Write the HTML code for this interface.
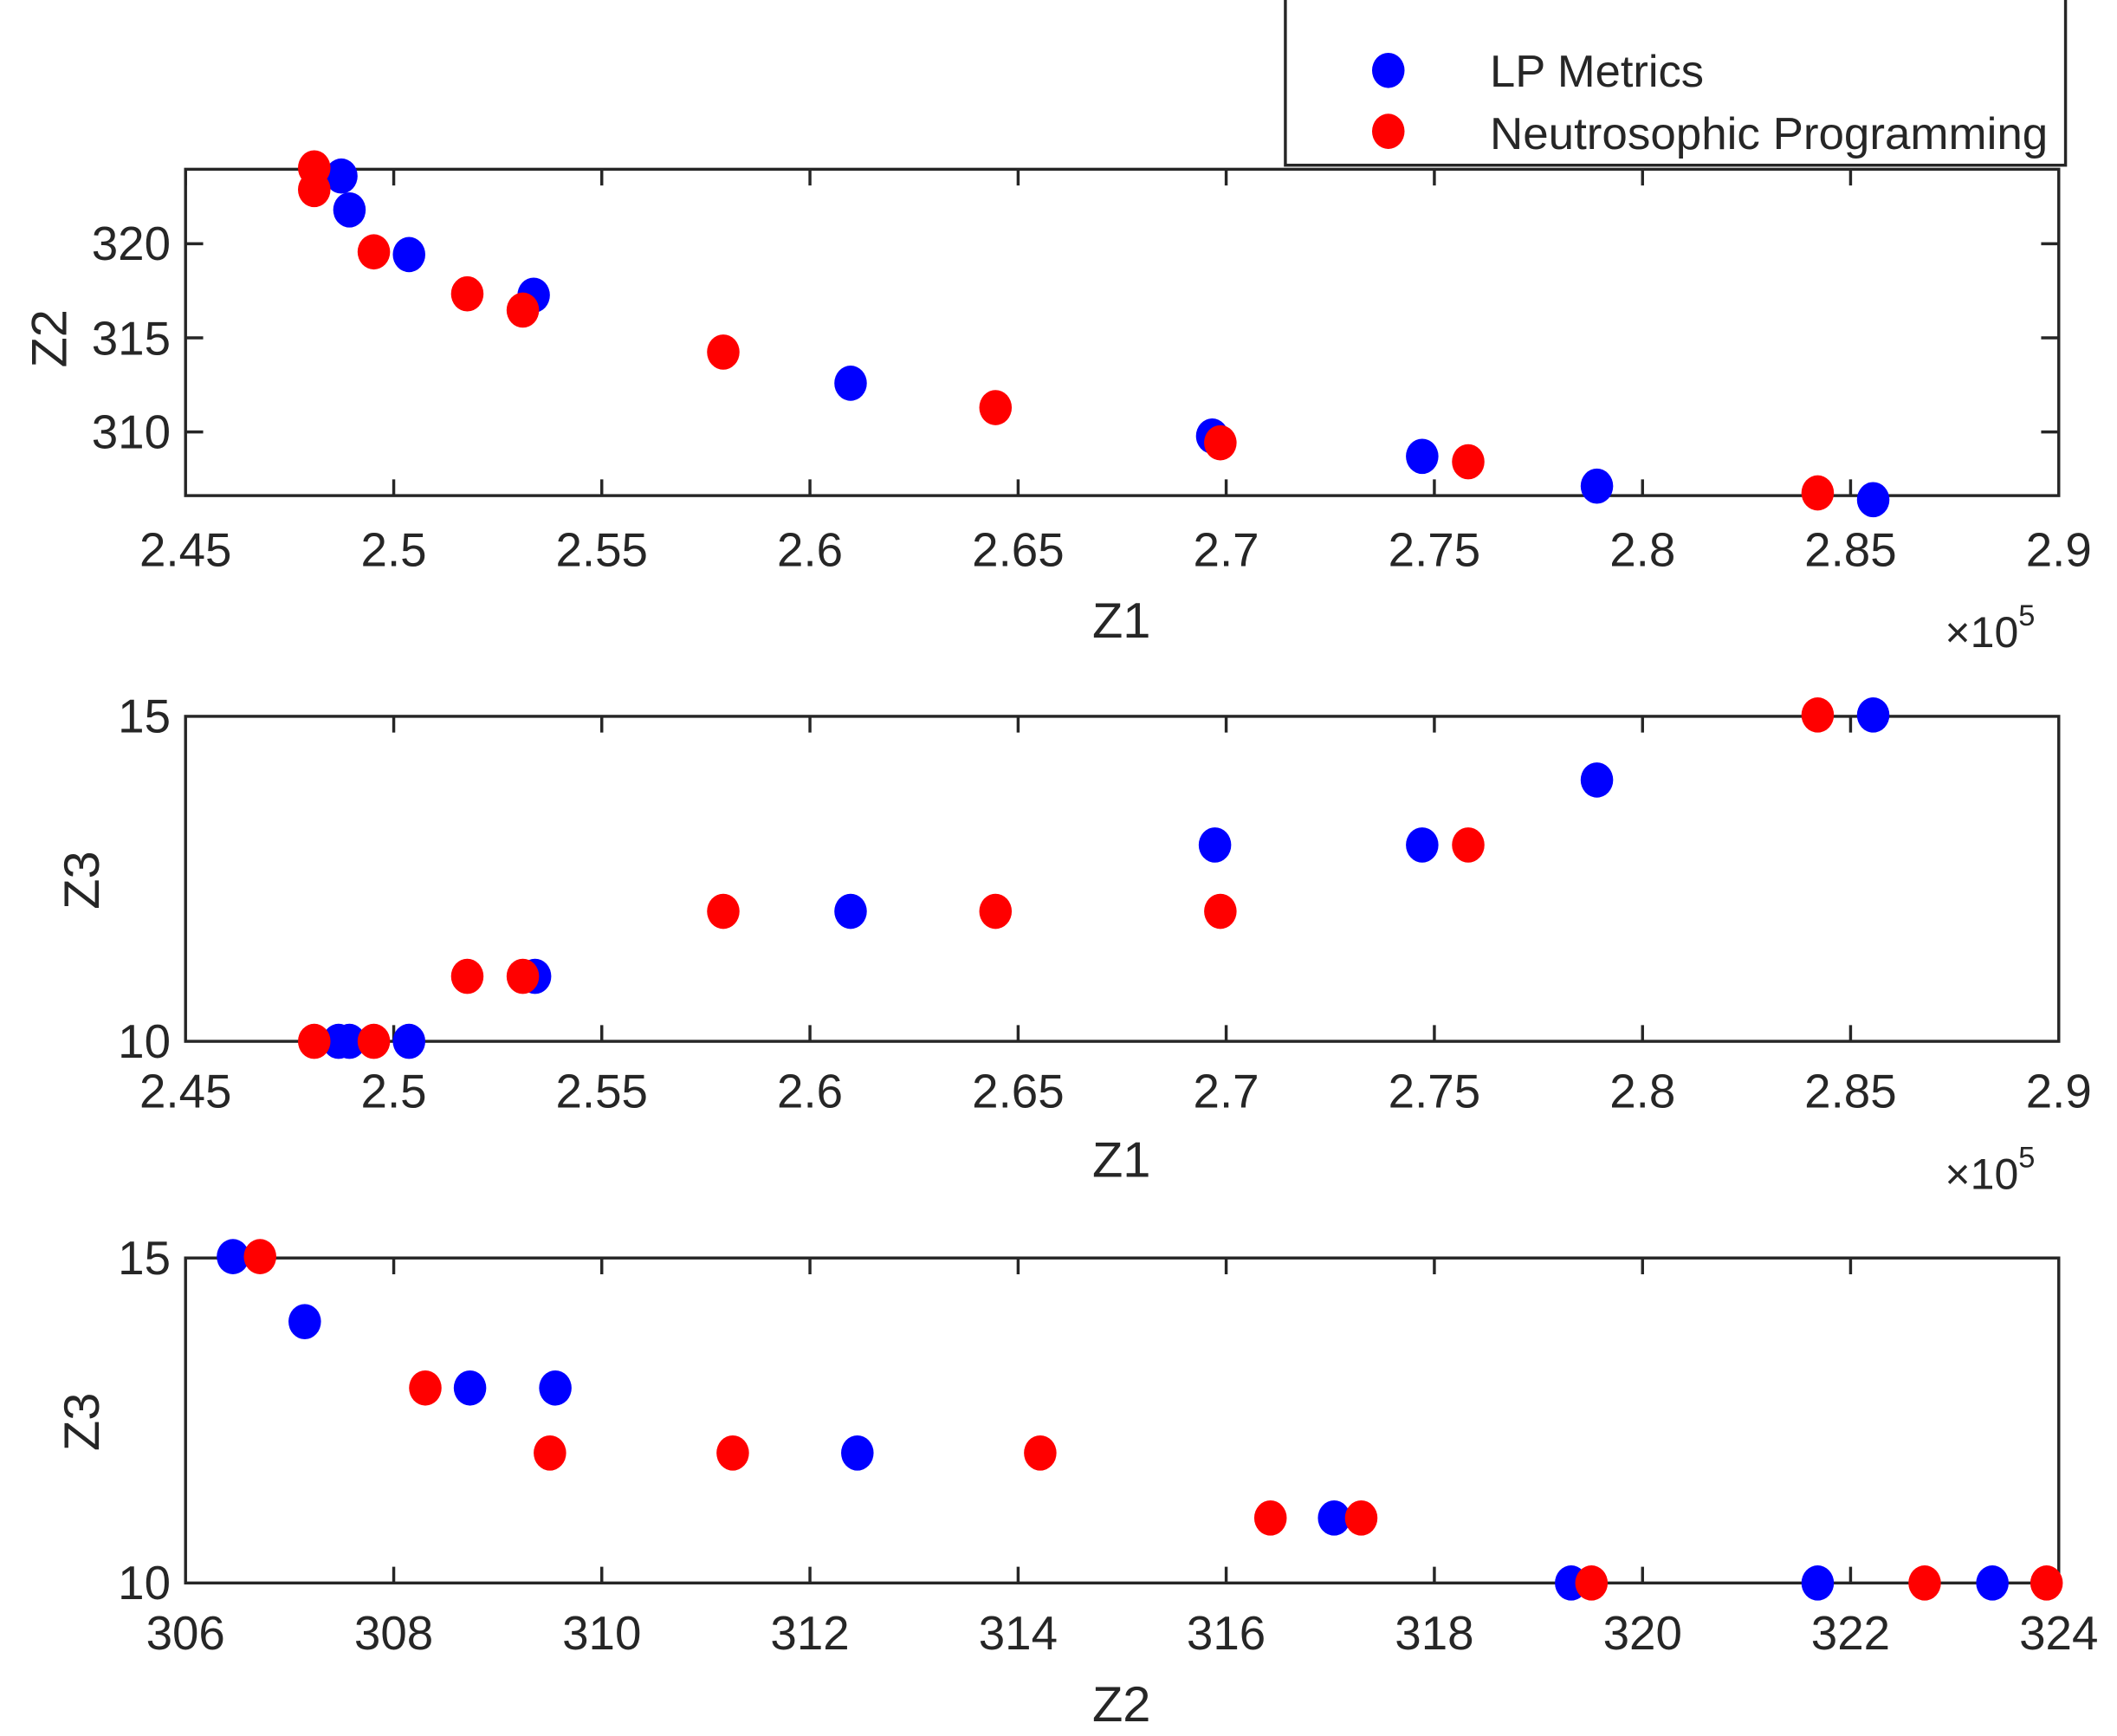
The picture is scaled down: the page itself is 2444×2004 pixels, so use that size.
<!DOCTYPE html>
<html><head><meta charset="utf-8"><style>
html,body{margin:0;padding:0;background:#fff;}
svg{display:block;}
text{font-family:"Liberation Sans",Arial,sans-serif;fill:#262626;}
</style></head><body>
<svg width="2444" height="2004" viewBox="0 0 1563 1282" preserveAspectRatio="none" xmlns="http://www.w3.org/2000/svg">
<rect width="1563" height="1282" fill="#fff"/>
<g stroke="#262626" stroke-width="2.2" fill="none">
<rect x="137" y="125" width="1383" height="241"/>
<path d="M137,125v12M290.7,125v12M444.3,125v12M598,125v12M751.7,125v12M905.3,125v12M1059,125v12M1212.7,125v12M1366.3,125v12
M290.7,366v-12M444.3,366v-12M598,366v-12M751.7,366v-12M905.3,366v-12M1059,366v-12M1212.7,366v-12M1366.3,366v-12
M137,180h13M137,249.5h13M137,319h13M1520,180h-13M1520,249.5h-13M1520,319h-13"/>
<rect x="137" y="529" width="1383" height="240"/>
<path d="M290.7,529v12M444.3,529v12M598,529v12M751.7,529v12M905.3,529v12M1059,529v12M1212.7,529v12M1366.3,529v12
M290.7,769v-12M444.3,769v-12M598,769v-12M751.7,769v-12M905.3,769v-12M1059,769v-12M1212.7,769v-12M1366.3,769v-12"/>
<rect x="137" y="929" width="1383" height="240"/>
<path d="M290.7,929v12M444.3,929v12M598,929v12M751.7,929v12M905.3,929v12M1059,929v12M1212.7,929v12M1366.3,929v12
M290.7,1169v-12M444.3,1169v-12M598,1169v-12M751.7,1169v-12M905.3,1169v-12M1059,1169v-12M1212.7,1169v-12M1366.3,1169v-12"/>
</g>
<rect x="949" y="-5" width="576" height="127" fill="#fff" stroke="#262626" stroke-width="2.2"/>
<ellipse cx="1025" cy="52" rx="12" ry="13" fill="#0000ff"/>
<ellipse cx="1025" cy="97" rx="12" ry="13" fill="#ff0000"/>
<text x="1100" y="64" font-size="33" textLength="158" lengthAdjust="spacingAndGlyphs">LP Metrics</text>
<text x="1100" y="110" font-size="33" textLength="412" lengthAdjust="spacingAndGlyphs">Neutrosophic Programming</text>

<g font-size="35" text-anchor="middle">
<text x="137" y="418">2.45</text><text x="290.7" y="418">2.5</text><text x="444.3" y="418">2.55</text><text x="598" y="418">2.6</text><text x="751.7" y="418">2.65</text><text x="905.3" y="418">2.7</text><text x="1059" y="418">2.75</text><text x="1212.7" y="418">2.8</text><text x="1366.3" y="418">2.85</text><text x="1520" y="418">2.9</text>
<text x="137" y="818">2.45</text><text x="290.7" y="818">2.5</text><text x="444.3" y="818">2.55</text><text x="598" y="818">2.6</text><text x="751.7" y="818">2.65</text><text x="905.3" y="818">2.7</text><text x="1059" y="818">2.75</text><text x="1212.7" y="818">2.8</text><text x="1366.3" y="818">2.85</text><text x="1520" y="818">2.9</text>
<text x="137" y="1218">306</text><text x="290.7" y="1218">308</text><text x="444.3" y="1218">310</text><text x="598" y="1218">312</text><text x="751.7" y="1218">314</text><text x="905.3" y="1218">316</text><text x="1059" y="1218">318</text><text x="1212.7" y="1218">320</text><text x="1366.3" y="1218">322</text><text x="1520" y="1218">324</text>
</g>
<g font-size="35" text-anchor="end">
<text x="126" y="192">320</text><text x="126" y="262">315</text><text x="126" y="331">310</text>
<text x="126" y="541">15</text><text x="126" y="781">10</text>
<text x="126" y="941">15</text><text x="126" y="1181">10</text>
</g>
<g font-size="37" text-anchor="middle">
<text x="828" y="471">Z1</text>
<text x="828" y="869">Z1</text>
<text x="828" y="1271">Z2</text>
<text transform="translate(49,250) rotate(-90)">Z2</text>
<text transform="translate(73,650) rotate(-90)">Z3</text>
<text transform="translate(73,1050) rotate(-90)">Z3</text>
</g>
<text x="1436" y="478" font-size="32">×10<tspan font-size="22" dy="-16">5</tspan></text>
<text x="1436" y="878" font-size="32">×10<tspan font-size="22" dy="-16">5</tspan></text>

<g fill="#0000ff">
<ellipse cx="252" cy="130" rx="12" ry="13"/><ellipse cx="258" cy="155" rx="12" ry="13"/><ellipse cx="302" cy="188" rx="12" ry="13"/><ellipse cx="394" cy="218" rx="12" ry="13"/><ellipse cx="628" cy="283" rx="12" ry="13"/><ellipse cx="895" cy="322" rx="12" ry="13"/><ellipse cx="1050" cy="337" rx="12" ry="13"/><ellipse cx="1179" cy="359" rx="12" ry="13"/><ellipse cx="1383" cy="369" rx="12" ry="13"/>
<ellipse cx="250" cy="769" rx="12" ry="13"/><ellipse cx="258" cy="769" rx="12" ry="13"/><ellipse cx="302" cy="769" rx="12" ry="13"/><ellipse cx="395" cy="721" rx="12" ry="13"/><ellipse cx="628" cy="673" rx="12" ry="13"/><ellipse cx="897" cy="624" rx="12" ry="13"/><ellipse cx="1050" cy="624" rx="12" ry="13"/><ellipse cx="1179" cy="576" rx="12" ry="13"/><ellipse cx="1383" cy="528" rx="12" ry="13"/>
<ellipse cx="172" cy="928" rx="12" ry="13"/><ellipse cx="225" cy="976" rx="12" ry="13"/><ellipse cx="347" cy="1025" rx="12" ry="13"/><ellipse cx="410" cy="1025" rx="12" ry="13"/><ellipse cx="633" cy="1073" rx="12" ry="13"/><ellipse cx="985" cy="1121" rx="12" ry="13"/><ellipse cx="1160" cy="1169" rx="12" ry="13"/><ellipse cx="1342" cy="1169" rx="12" ry="13"/><ellipse cx="1471" cy="1169" rx="12" ry="13"/>
</g>
<g fill="#ff0000">
<ellipse cx="232" cy="124" rx="12" ry="13"/><ellipse cx="232" cy="140" rx="12" ry="13"/><ellipse cx="276" cy="186" rx="12" ry="13"/><ellipse cx="345" cy="217" rx="12" ry="13"/><ellipse cx="386" cy="229" rx="12" ry="13"/><ellipse cx="534" cy="260" rx="12" ry="13"/><ellipse cx="735" cy="301" rx="12" ry="13"/><ellipse cx="901" cy="327" rx="12" ry="13"/><ellipse cx="1084" cy="341" rx="12" ry="13"/><ellipse cx="1342" cy="364" rx="12" ry="13"/>
<ellipse cx="232" cy="769" rx="12" ry="13"/><ellipse cx="276" cy="769" rx="12" ry="13"/><ellipse cx="345" cy="721" rx="12" ry="13"/><ellipse cx="386" cy="721" rx="12" ry="13"/><ellipse cx="534" cy="673" rx="12" ry="13"/><ellipse cx="735" cy="673" rx="12" ry="13"/><ellipse cx="901" cy="673" rx="12" ry="13"/><ellipse cx="1084" cy="624" rx="12" ry="13"/><ellipse cx="1342" cy="528" rx="12" ry="13"/>
<ellipse cx="192" cy="928" rx="12" ry="13"/><ellipse cx="314" cy="1025" rx="12" ry="13"/><ellipse cx="406" cy="1073" rx="12" ry="13"/><ellipse cx="541" cy="1073" rx="12" ry="13"/><ellipse cx="768" cy="1073" rx="12" ry="13"/><ellipse cx="938" cy="1121" rx="12" ry="13"/><ellipse cx="1005" cy="1121" rx="12" ry="13"/><ellipse cx="1175" cy="1169" rx="12" ry="13"/><ellipse cx="1421" cy="1169" rx="12" ry="13"/><ellipse cx="1511" cy="1169" rx="12" ry="13"/>
</g>
</svg>
</body></html>
